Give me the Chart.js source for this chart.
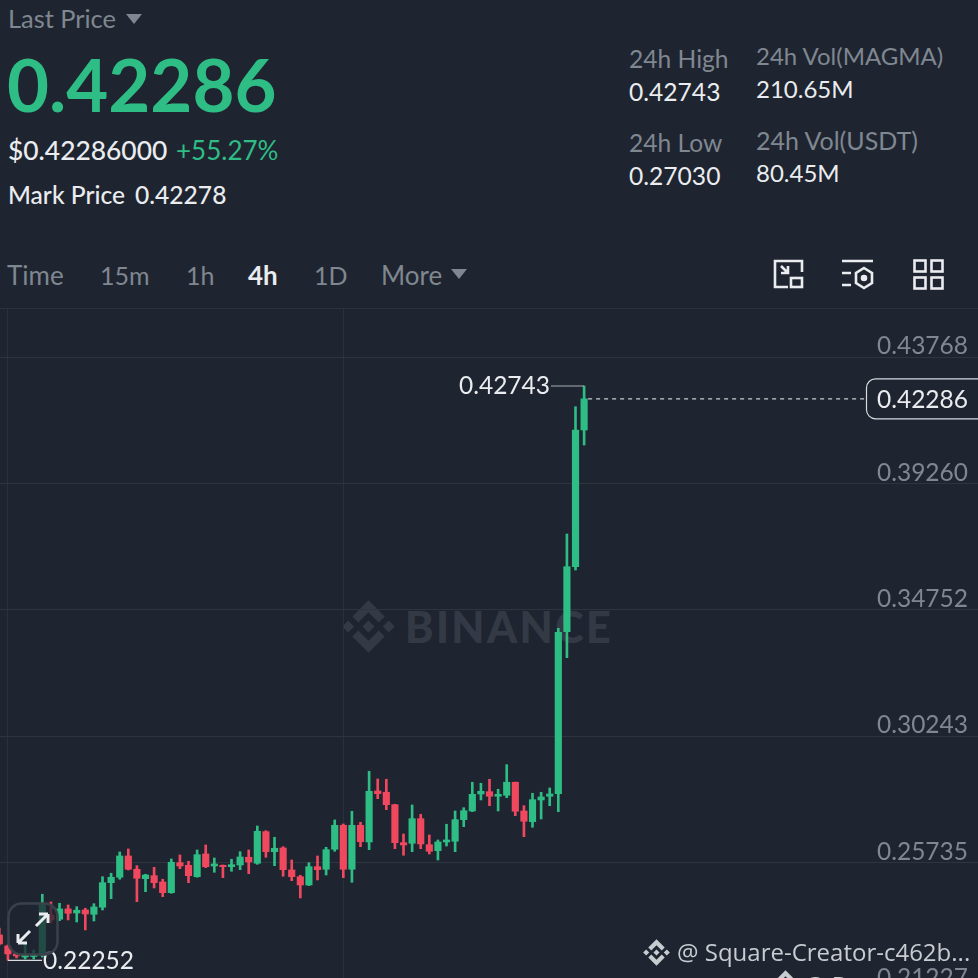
<!DOCTYPE html>
<html>
<head>
<meta charset="utf-8">
<title>MAGMA/USDT</title>
<script src="https://cdn.jsdelivr.net/npm/chart.js@4/dist/chart.umd.min.js"></script>
<style>
html, body { margin:0; padding:0; background:#1f2530; width:978px; height:978px; overflow:hidden; }
body { position:relative; font-family:Lato, sans-serif; color:#eaecef; }
.t { position:absolute; white-space:nowrap; line-height:1; transform:translateY(-50%); }
.grey { color:#7f8791; }
.green { color:#2ebd85; }
#chartBox { position:absolute; left:0; top:309px; width:978px; height:692px; }
svg { position:absolute; overflow:visible; }
</style>
</head>
<body>
<svg width="0" height="0" style="position:absolute">
  <symbol id="bn" viewBox="0 0 126 126"><path d="M38.73 53.2L63 28.93l24.28 24.28 14.12-14.12L63 .7 24.6 39.1zM.7 63l14.12-14.12L28.94 63 14.82 77.12zM38.73 72.8L63 97.07l24.28-24.28 14.13 14.11-.01.01L63 125.3 24.6 86.9l-.02-.02zM97.06 63l14.12-14.12L125.3 63l-14.12 14.12zM77.32 62.99L63 48.67 52.41 59.26l-1.22 1.22-2.5 2.51L63 77.32l14.32-14.32z"/></symbol>
</svg>

<span class="t grey" style="left:8px;top:19px;font-size:25.4px">Last Price</span>
<svg style="left:126px;top:14px" width="16" height="11"><path d="M0 0H16L8 10Z" fill="#7f8791"/></svg>
<span class="t green" style="left:7px;top:84px;font-size:72.5px;font-weight:700">0.42286</span>
<span class="t" style="left:8px;top:150px;font-size:26.4px;font-weight:500">$0.42286000</span>
<span class="t green" style="left:176px;top:150px;font-size:26px">+55.27%</span>
<span class="t" style="left:8px;top:195px;font-size:24.6px;font-weight:500">Mark Price</span>
<span class="t" style="left:135px;top:195px;font-size:24.6px;font-weight:500">0.42278</span>

<span class="t grey" style="left:629px;top:59px;font-size:24.6px">24h High</span>
<span class="t" style="left:629px;top:92px;font-size:24.6px">0.42743</span>
<span class="t grey" style="left:629px;top:143px;font-size:24.6px">24h Low</span>
<span class="t" style="left:629px;top:176px;font-size:24.6px">0.27030</span>
<span class="t grey" style="left:756px;top:56px;font-size:24px">24h Vol(MAGMA)</span>
<span class="t" style="left:756px;top:89px;font-size:24px">210.65M</span>
<span class="t grey" style="left:756px;top:140px;font-size:25px">24h Vol(USDT)</span>
<span class="t" style="left:756px;top:173px;font-size:24px">80.45M</span>

<span class="t grey" style="left:7px;top:275px;font-size:26px">Time</span>
<span class="t grey" style="left:100px;top:275px;font-size:25px">15m</span>
<span class="t grey" style="left:186px;top:275px;font-size:25px">1h</span>
<span class="t" style="left:248px;top:275px;font-size:26px;font-weight:700">4h</span>
<span class="t grey" style="left:314px;top:275px;font-size:25px">1D</span>
<span class="t grey" style="left:381px;top:275px;font-size:26px">More</span>
<svg style="left:451px;top:269px" width="16" height="11"><path d="M0 0H16L8 10Z" fill="#7f8791"/></svg>

<svg style="left:773px;top:259px" width="32" height="32" fill="none" stroke="#eaecef" stroke-width="2.6">
  <path d="M29 13V2H2V28H15"/><rect x="18" y="19" width="11" height="9"/>
  <path d="M8 7L15 14M15 7V14H8"/>
</svg>
<svg style="left:842px;top:259px" width="34" height="32" fill="none" stroke="#eaecef" stroke-width="2.6">
  <path d="M0 2H31M0 14H9M0 26H9M22 9L30 14V24L22 29L14 24V14Z"/><circle cx="22" cy="19" r="2" fill="#eaecef"/>
</svg>
<svg style="left:913px;top:259px" width="32" height="32" fill="none" stroke="#eaecef" stroke-width="2.6">
  <rect x="1.5" y="1.5" width="11" height="11"/><rect x="18.5" y="1.5" width="11" height="11"/>
  <rect x="1.5" y="18.5" width="11" height="11"/><rect x="18.5" y="18.5" width="11" height="11"/>
</svg>

<div style="position:absolute;left:0;top:308px;width:978px;height:1px;background:#2b313b"></div>

<svg style="left:342px;top:600px" width="53" height="53" fill="#333a45"><use href="#bn" width="53" height="53"/></svg>
<span class="t" style="left:405px;top:626px;font-size:43px;font-weight:900;letter-spacing:2.4px;color:#333a45">BINANCE</span>

<div id="chartBox"><canvas id="kline"></canvas></div>

<svg style="left:7px;top:902px" width="52" height="54">
  <rect x="1.5" y="1.5" width="49" height="51" rx="13" fill="#1f2530" fill-opacity="0.75" stroke="#3b414b" stroke-width="2.5"/>
  <path d="M11 41L23 29M11 41V32M11 41H20M29 24L41 12M41 12H32M41 12V21" fill="none" stroke="#eaecef" stroke-width="3"/>
</svg>

<svg style="left:643px;top:939px" width="27" height="27" fill="#c8ccd1"><use href="#bn" width="27" height="27"/></svg>
<span class="t" style="left:677px;top:952px;font-family:'Open Sans',sans-serif;font-size:24px;color:#c8ccd1">@ Square-Creator-c462b...</span>
<svg style="left:772px;top:970px" width="27" height="27" fill="#c8ccd1"><use href="#bn" width="27" height="27"/></svg>
<span class="t" style="left:804px;top:985px;font-family:'Open Sans',sans-serif;font-size:24px;color:#c8ccd1">@ Bor</span>

<script>
var tickValues = [0.43768, 0.39260, 0.34752, 0.30243, 0.25735, 0.21227];
var timeTicks = [1, 40];
var lastPrice = 0.42286;
var highPrice = 0.42743;
var lowPrice = 0.22252;

var opens = [0.23155,0.22763,0.22478,0.22370,0.22388,0.22442,0.23869,0.23716,0.24083,0.23940,
             0.24047,0.23894,0.24144,0.25021,0.25214,0.25974,0.25500,0.25164,0.25271,0.25046,
             0.24665,0.25735,0.25642,0.25235,0.26045,0.25617,0.25642,0.25592,0.25653,0.25928,
             0.25714,0.26841,0.26127,0.26259,0.25475,0.25235,0.24939,0.25592,0.25500,0.26213,
             0.27069,0.25500,0.27069,0.26474,0.28293,0.28247,0.27804,0.26449,0.26427,0.27305,
             0.26377,0.26163,0.26474,0.26499,0.27269,0.27580,0.28186,0.28268,0.28104,0.28140,
             0.28604,0.27580,0.27198,0.27972,0.28104,0.28197,0.33977,0.36296,0.41173];
var highs = [0.23405,0.22799,0.22495,0.22906,0.22620,0.24608,0.24333,0.24286,0.24226,0.24165,
             0.24108,0.24272,0.25235,0.25357,0.26117,0.26224,0.25628,0.25321,0.25571,0.25143,
             0.25867,0.26010,0.25785,0.26188,0.26367,0.25903,0.25653,0.25856,0.26127,0.26188,
             0.27044,0.26877,0.26641,0.26306,0.25831,0.25285,0.25735,0.25974,0.26284,0.27259,
             0.27116,0.27569,0.27176,0.28996,0.28721,0.28711,0.27819,0.26759,0.27794,0.27462,
             0.26723,0.26545,0.27105,0.27580,0.27697,0.28604,0.28568,0.28711,0.28354,0.29232,
             0.28610,0.27769,0.28211,0.28247,0.28400,0.34098,0.37463,0.42005,0.42743];
var lows = [0.22799,0.22252,0.22335,0.22299,0.22299,0.22370,0.23584,0.23666,0.23691,0.23619,
            0.23334,0.23655,0.24047,0.24451,0.25143,0.25475,0.24344,0.24700,0.24832,0.24522,
            0.24643,0.25521,0.25021,0.25214,0.25557,0.25392,0.25200,0.25428,0.25485,0.25343,
            0.25678,0.25928,0.25628,0.25250,0.25093,0.24476,0.24914,0.25118,0.25296,0.26142,
            0.25200,0.25036,0.26306,0.26199,0.28018,0.27626,0.26235,0.25999,0.26127,0.26235,
            0.26045,0.25831,0.26331,0.26127,0.27019,0.27555,0.27972,0.27769,0.27580,0.28054,
            0.27412,0.26663,0.26998,0.27294,0.27769,0.27555,0.33049,0.36178,0.40638];
var closes = [0.22834,0.22478,0.22406,0.22442,0.22460,0.24226,0.23691,0.24083,0.23930,0.24037,
              0.23905,0.24154,0.25021,0.25214,0.25974,0.25500,0.25178,0.25296,0.25021,0.24665,
              0.25749,0.25617,0.25271,0.26020,0.25592,0.25689,0.25592,0.25664,0.25938,0.25760,
              0.26855,0.26127,0.26249,0.25485,0.25235,0.24939,0.25592,0.25485,0.26199,0.27069,
              0.25500,0.27069,0.26484,0.28282,0.28197,0.27804,0.26449,0.26367,0.27305,0.26402,
              0.26142,0.26474,0.26545,0.27269,0.27590,0.28175,0.28282,0.28104,0.28175,0.28604,
              0.27569,0.27212,0.27983,0.28079,0.28186,0.33955,0.36296,0.41173,0.42286];

var green = '#2ebd85';
var red = '#f0485e';
var bg = '#1f2530';
var candleColors = closes.map(function(c, i){ return c >= opens[i] ? green : red; });
var wickData = highs.map(function(h, i){ return {x:i, y:[lows[i], h]}; });
var bodyData = opens.map(function(o, i){ return {x:i, y:[o, closes[i]]}; });

// price markers on top of the candles
var markers = {
	id: 'markers',
	afterDatasetsDraw: function(chart) {
		var ctx = chart.ctx, xs = chart.scales.x, ys = chart.scales.y;
		ctx.save();
		ctx.font = '24.5px Lato, sans-serif';
		ctx.textBaseline = 'middle';

		var yLast = ys.getPixelForValue(lastPrice);
		ctx.strokeStyle = '#c9ccd1';
		ctx.lineWidth = 1.2;
		ctx.setLineDash([4, 4]);
		ctx.beginPath();
		ctx.moveTo(xs.getPixelForValue(highs.length - 1) + 4, yLast);
		ctx.lineTo(866, yLast);
		ctx.stroke();
		ctx.setLineDash([]);

		ctx.beginPath();
		ctx.roundRect(866.5, yLast - 20, 130, 40, 9);
		ctx.fillStyle = bg;
		ctx.fill();
		ctx.strokeStyle = '#d8dadd';
		ctx.stroke();
		ctx.fillStyle = '#eaecef';
		ctx.textAlign = 'right';
		ctx.fillText(lastPrice.toFixed(5), 968, yLast + 1);

		var iHigh = highs.indexOf(highPrice), yHigh = ys.getPixelForValue(highPrice);
		ctx.strokeStyle = '#a9acb1';
		ctx.beginPath();
		ctx.moveTo(551, yHigh);
		ctx.lineTo(xs.getPixelForValue(iHigh), yHigh);
		ctx.stroke();
		ctx.fillText(highPrice.toFixed(5), 550, yHigh);

		var iLow = lows.indexOf(lowPrice), yLow = ys.getPixelForValue(lowPrice);
		ctx.strokeStyle = '#d8dadd';
		ctx.beginPath();
		ctx.moveTo(xs.getPixelForValue(iLow), yLow);
		ctx.lineTo(42, yLow);
		ctx.stroke();
		ctx.textAlign = 'left';
		ctx.fillText(lowPrice.toFixed(5), 43, yLow + 1);
		ctx.restore();
	}
};

new Chart('kline', {
	type: 'bar',
	data: {
		datasets: [
			{ data: wickData, backgroundColor: candleColors, barThickness: 2, grouped: false, borderWidth: 0 },
			{ data: bodyData, backgroundColor: candleColors, barThickness: 6.5, grouped: false, borderWidth: 0 }
		]
	},
	options: {
		responsive: true,
		maintainAspectRatio: false,
		animation: false,
		layout: { padding: 0 },
		plugins: { legend: false, title: { display: false }, tooltip: { enabled: false } },
		scales: {
			x: {
				type: 'linear',
				offset: false,
				min: 0.08,
				max: 113.8,
				afterBuildTicks: function(s){ s.ticks = timeTicks.map(function(v){ return {value:v}; }); },
				grid: { color: '#2b313b', drawTicks: false, offset: false },
				border: { display: false },
				ticks: { display: false },
				afterFit: function(s){ s.height = 0; s.paddingLeft = 0; s.paddingRight = 0; }
			},
			y: {
				position: 'right',
				min: 0.20799,
				max: 0.45491,
				afterBuildTicks: function(s){ s.ticks = tickValues.map(function(v){ return {value:v}; }); },
				grid: { color: '#2f353f', drawTicks: false },
				border: { display: false },
				ticks: {
					mirror: true,
					padding: -10,
					labelOffset: -11,
					color: '#7f8791',
					font: { family: 'Lato, sans-serif', size: 24.5 },
					callback: function(v){ return v.toFixed(5); }
				},
				afterFit: function(s){ s.width = 0; s.paddingTop = 0; s.paddingBottom = 0; }
			}
		}
	},
	plugins: [markers]
});
</script>
</body>
</html>
